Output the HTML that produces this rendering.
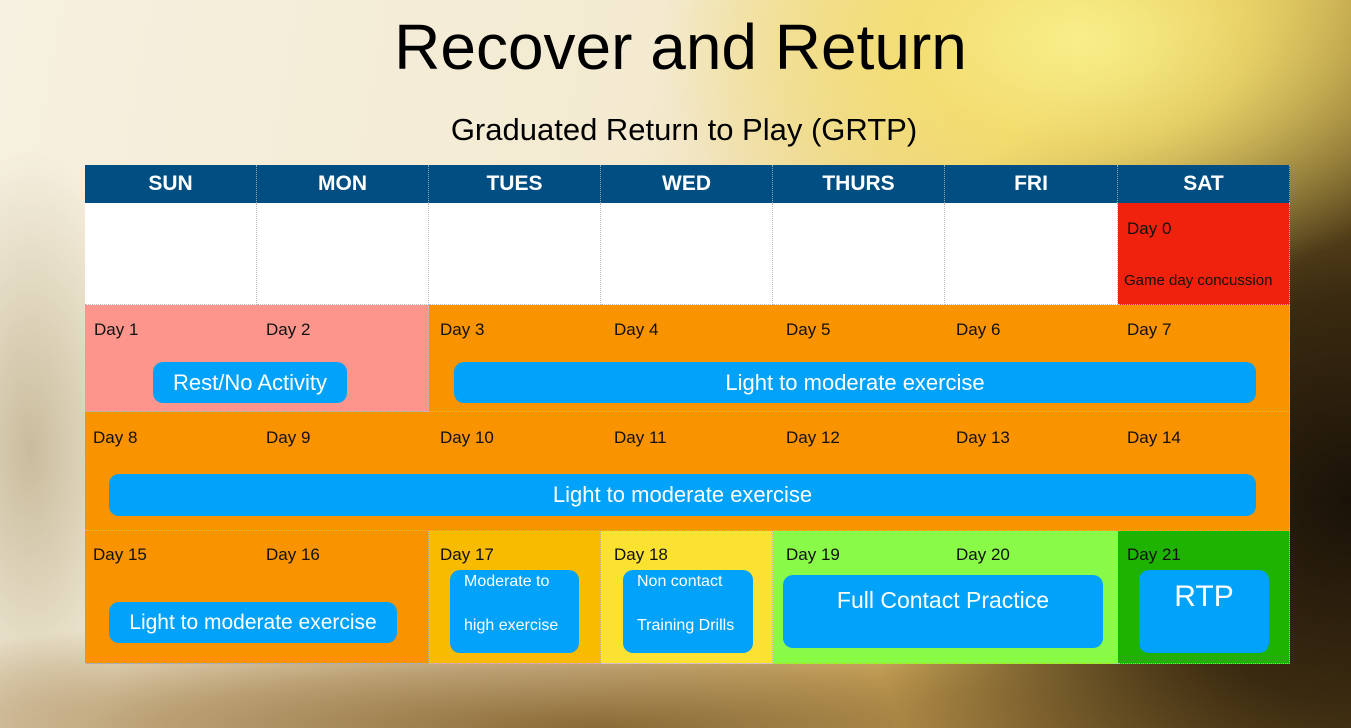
<!DOCTYPE html>
<html><head><meta charset="utf-8"><style>
*{margin:0;padding:0;box-sizing:border-box}
body{width:1351px;height:728px;overflow:hidden;position:relative;font-family:"Liberation Sans",sans-serif;
background:
radial-gradient(ellipse 420px 260px at 1080px 40px,#f8ee8a 0%,rgba(245,225,110,.8) 40%,rgba(240,210,100,0) 100%),
radial-gradient(ellipse 500px 500px at 1351px 500px,#1a1208 0%,#3a2a10 40%,rgba(120,90,30,0) 100%),
radial-gradient(ellipse 900px 120px at 600px 728px,#8a6a35 0%,rgba(150,110,50,.6) 50%,rgba(180,130,50,0) 100%),
radial-gradient(ellipse 120px 300px at 30px 450px,rgba(190,175,140,.8) 0%,rgba(200,190,160,0) 100%),
linear-gradient(100deg,#f6f0e0 0%,#f3ead0 45%,#e8c870 70%,#8a6a25 100%);}
.t{position:absolute;white-space:nowrap}
.c{position:absolute;border-right:1px dotted #bbb;border-bottom:1px dotted #bbb}
.d{position:absolute;font-size:16px;color:#111;white-space:nowrap}
.h{position:absolute;top:165px;height:38px;background:#004e82;color:#fff;font-weight:bold;font-size:21px;text-align:center;line-height:38px;border-right:1px dotted #8aa}
.b{position:absolute;background:#00a2fa;border-radius:10px;color:#fff;text-align:center;white-space:nowrap}
</style></head><body>
<div class="t" style="left:0;width:1361px;text-align:center;top:10px;font-size:64px;color:#000">Recover and Return</div>
<div class="t" style="left:0;width:1368px;text-align:center;top:112px;font-size:31px;color:#000">Graduated Return to Play (GRTP)</div>

<div class="h" style="left:85px;width:172px">SUN</div>
<div class="h" style="left:257px;width:172px">MON</div>
<div class="h" style="left:429px;width:172px">TUES</div>
<div class="h" style="left:601px;width:172px">WED</div>
<div class="h" style="left:773px;width:172px">THURS</div>
<div class="h" style="left:945px;width:173px">FRI</div>
<div class="h" style="left:1118px;width:172px">SAT</div>

<div class="c" style="left:85px;top:203px;width:172px;height:102px;background:#fff"></div>
<div class="c" style="left:257px;top:203px;width:172px;height:102px;background:#fff"></div>
<div class="c" style="left:429px;top:203px;width:172px;height:102px;background:#fff"></div>
<div class="c" style="left:601px;top:203px;width:172px;height:102px;background:#fff"></div>
<div class="c" style="left:773px;top:203px;width:172px;height:102px;background:#fff"></div>
<div class="c" style="left:945px;top:203px;width:173px;height:102px;background:#fff"></div>
<div class="c" style="left:1118px;top:203px;width:172px;height:102px;background:#f0220d"></div>
<div class="d" style="left:1127px;top:219px;font-size:17px">Day 0</div>
<div class="d" style="left:1124px;top:272px;font-size:15px">Game day concussion</div>

<div class="c" style="left:85px;top:305px;width:344px;height:107px;background:#fc968c"></div>
<div class="c" style="left:429px;top:305px;width:861px;height:107px;background:#f99300"></div>
<div class="d" style="left:94px;top:320px;font-size:17px">Day 1</div>
<div class="d" style="left:266px;top:320px;font-size:17px">Day 2</div>
<div class="d" style="left:440px;top:320px;font-size:17px">Day 3</div>
<div class="d" style="left:614px;top:320px;font-size:17px">Day 4</div>
<div class="d" style="left:786px;top:320px;font-size:17px">Day 5</div>
<div class="d" style="left:956px;top:320px;font-size:17px">Day 6</div>
<div class="d" style="left:1127px;top:320px;font-size:17px">Day 7</div>
<div class="b" style="left:153px;top:362px;width:194px;height:41px;font-size:22px;line-height:41px">Rest/No Activity</div>
<div class="b" style="left:454px;top:362px;width:802px;height:41px;font-size:22px;line-height:41px">Light to moderate exercise</div>

<div class="c" style="left:85px;top:412px;width:1205px;height:119px;background:#f99300"></div>
<div class="d" style="left:93px;top:428px;font-size:17px">Day 8</div>
<div class="d" style="left:266px;top:428px;font-size:17px">Day 9</div>
<div class="d" style="left:440px;top:428px;font-size:17px">Day 10</div>
<div class="d" style="left:614px;top:428px;font-size:17px">Day 11</div>
<div class="d" style="left:786px;top:428px;font-size:17px">Day 12</div>
<div class="d" style="left:956px;top:428px;font-size:17px">Day 13</div>
<div class="d" style="left:1127px;top:428px;font-size:17px">Day 14</div>
<div class="b" style="left:109px;top:474px;width:1147px;height:42px;font-size:22px;line-height:42px">Light to moderate exercise</div>

<div class="c" style="left:85px;top:531px;width:344px;height:133px;background:#f99300"></div>
<div class="c" style="left:429px;top:531px;width:172px;height:133px;background:#f8bb00"></div>
<div class="c" style="left:601px;top:531px;width:172px;height:133px;background:#fbe130"></div>
<div class="c" style="left:773px;top:531px;width:345px;height:133px;background:#8afa48"></div>
<div class="c" style="left:1118px;top:531px;width:172px;height:133px;background:#1eb300"></div>
<div class="d" style="left:93px;top:545px;font-size:17px">Day 15</div>
<div class="d" style="left:266px;top:545px;font-size:17px">Day 16</div>
<div class="d" style="left:440px;top:545px;font-size:17px">Day 17</div>
<div class="d" style="left:614px;top:545px;font-size:17px">Day 18</div>
<div class="d" style="left:786px;top:545px;font-size:17px">Day 19</div>
<div class="d" style="left:956px;top:545px;font-size:17px">Day 20</div>
<div class="d" style="left:1127px;top:545px;font-size:17px">Day 21</div>
<div class="b" style="left:109px;top:602px;width:288px;height:41px;font-size:21px;line-height:41px">Light to moderate exercise</div>
<div class="b" style="left:450px;top:570px;width:129px;height:83px;font-size:16px;line-height:22px;padding-top:1px;text-align:left;padding-left:14px">Moderate to<br><br>high exercise</div>
<div class="b" style="left:623px;top:570px;width:130px;height:83px;font-size:16px;line-height:22px;padding-top:1px;text-align:left;padding-left:14px">Non contact<br><br>Training Drills</div>
<div class="b" style="left:783px;top:575px;width:320px;height:73px;font-size:23px;line-height:50px">Full Contact Practice</div>
<div class="b" style="left:1139px;top:570px;width:130px;height:83px;font-size:30px;line-height:54px">RTP</div>
</body></html>
